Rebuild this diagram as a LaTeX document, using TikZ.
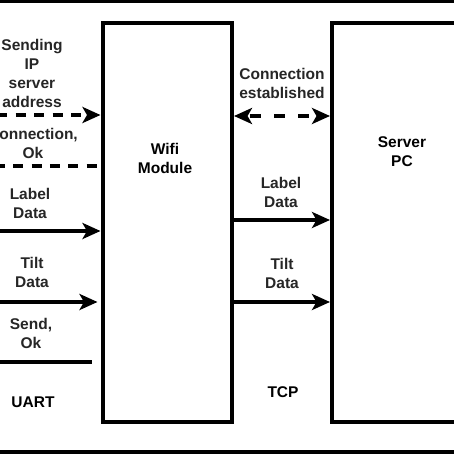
\documentclass[tikz,border=0pt]{standalone}
\usepackage{fontspec}
\setmainfont{Liberation Sans}
\usetikzlibrary{arrows.meta}
\begin{document}
\begin{tikzpicture}[x=1pt,y=-1pt,
  box/.style={draw=black,line width=4pt,rectangle,inner sep=0pt,outer sep=0pt},
  lbl/.style={align=center,inner sep=0pt,text=black!85,font=\bfseries\fontsize{15.5}{19}\selectfont},
  blbl/.style={lbl,text=black},
  conn/.style={line width=3.6pt,black},
  tip/.style={-{Stealth[length=18pt,width=16pt,inset=4.5pt]}},
  dtip/.style={{Stealth[length=18pt,width=16pt,inset=4.5pt]}-{Stealth[length=18pt,width=16pt,inset=4.5pt]}}
]
\useasboundingbox (0,0) rectangle (454,454);
\clip (0,0) rectangle (454,454);
\fill[white] (0,0) rectangle (454,454);
% top and bottom rules
\fill[black] (0,0) rectangle (454,3.3);
\fill[black] (0,450) rectangle (454,454);
% boxes
\node[box,minimum width=129.5pt,minimum height=398.5pt] (wifi) at (167.25,222.25) {};
\node[box,minimum width=200pt,minimum height=398.5pt] (server) at (432,222.25) {};
% box labels
\node[blbl] (wifilbl) at (165,158) {Wifi\\Module};
\node[blbl] (serverlbl) at (402,152) {Server\\PC};
% left labels
\node[lbl] (t1) at (32,73) {Sending\\IP\\server\\address};
\node[lbl] (t2) at (33,143) {Connection,\\Ok};
\node[lbl] (t3) at (30,203) {Label\\Data};
\node[lbl] (t4) at (32,272) {Tilt\\Data};
\node[lbl] (t5) at (31,333) {Send,\\Ok};
\node[blbl] (t6) at (33,402) {UART};
% middle labels
\node[lbl] (m0) at (282,83) {Connection\\established};
\node[lbl] (mt2) at (281,192) {Label\\Data};
\node[lbl] (mt3) at (282,273) {Tilt\\Data};
\node[blbl] (tcp) at (283,392) {TCP};
% left connectors
\coordinate (l1) at (0,115);
\coordinate (l2) at (0,166);
\coordinate (l3) at (0,231);
\coordinate (l4) at (0,302);
\coordinate (l5) at (0,362);
\coordinate (l5e) at (92,362);
\draw[conn,tip,dash pattern=on 10pt off 8.5pt,dash phase=3pt,shorten >=2pt] (l1) -- (l1 -| wifi.west);
\draw[conn,dash pattern=on 10pt off 8.3pt,dash phase=5pt] (l2) -- (l2 -| wifi.west);
\draw[conn,tip,shorten >=2pt] (l3) -- (l3 -| wifi.west);
\draw[conn,tip,shorten >=5pt] (l4) -- (l4 -| wifi.west);
\draw[conn] (l5) -- (l5e);
% middle connectors
\coordinate (m1) at (280,116);
\coordinate (m2) at (280,220);
\coordinate (m3) at (280,302);
\draw[conn,dtip,dash pattern=on 11pt off 13pt,dash phase=20pt,shorten <=2pt,shorten >=2pt] (wifi.east |- m1) -- (server.west |- m1);
\draw[conn,tip,shorten >=2pt] (wifi.east |- m2) -- (server.west |- m2);
\draw[conn,tip,shorten >=2pt] (wifi.east |- m3) -- (server.west |- m3);
\end{tikzpicture}
\end{document}
